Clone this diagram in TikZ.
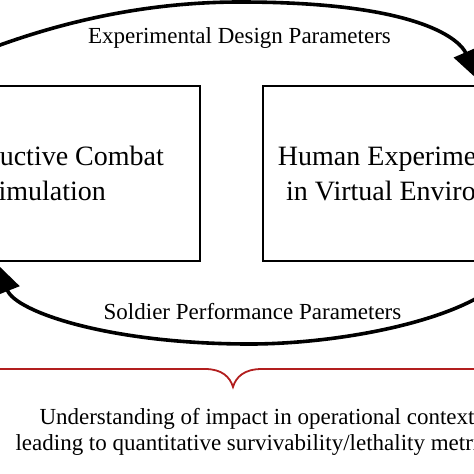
\documentclass[tikz,border=0pt]{standalone}
\usepackage{fontspec}
\setmainfont{Liberation Serif}
\usetikzlibrary{arrows.meta}
\definecolor{bracered}{RGB}{178,30,30}
\tikzset{
  boxnode/.style={draw=black, line width=1.3pt, inner sep=0pt, align=center,
    font=\fontsize{28}{35}\selectfont},
  arclabel/.style={font=\fontsize{23}{26}\selectfont, inner sep=0pt, anchor=base},
  bigarc/.style={line width=3.6pt, -{Triangle[length=29pt,width=25pt]}},
  bracepath/.style={draw=bracered, line width=1.8pt},
  outcome/.style={font=\fontsize{23}{26}\selectfont, inner sep=0pt, align=center}
}
\begin{document}
\begin{tikzpicture}[x=1pt,y=-1pt]
\useasboundingbox (0,0) rectangle (474,474);
\fill[white] (0,0) rectangle (474,474);
\clip (0,0) rectangle (474,474);
% boxes
\node[boxnode, minimum width=311pt, minimum height=175pt] (sim) at (44.5,173.5)
  {Constructive Combat\\Simulation};
\node[boxnode, minimum width=306pt, minimum height=175pt] (hum) at (416,173.5)
  {Human Experimentation\\in Virtual Environment};
% top arc
\coordinate (ta) at (-20,52.5);
\coordinate (tt) at (240,2);
\coordinate (te) at (477,79);
\draw[bigarc] (ta) .. controls (66.7,18.8) and (153.3,2) .. (tt)
  .. controls (425,2) and (461,42) .. (te);
\node[arclabel] (edp) at (239.5,43) {Experimental Design Parameters};
% bottom arc
\coordinate (bs) at (490,290);
\coordinate (bb) at (250,344);
\coordinate (be) at (-3,264);
\draw[bigarc] (bs) .. controls (440,325) and (330,344) .. (bb)
  .. controls (110,344) and (16,312) .. (be);
\node[arclabel] (spp) at (252.5,319) {Soldier Performance Parameters};
% brace
\coordinate (bl) at (-5,369);
\coordinate (btip) at (233,387);
\coordinate (br) at (480,369);
\draw[bracepath] (bl) -- (205,369) .. controls (222,369) and (230,377) .. (btip)
  .. controls (236,377) and (244,369) .. (262,369) -- (br);
% outcome text
\node[outcome, anchor=base] (out) at (257,450.5)
  {Understanding of impact in operational context\\leading to quantitative survivability/lethality metrics};
\end{tikzpicture}
\end{document}
